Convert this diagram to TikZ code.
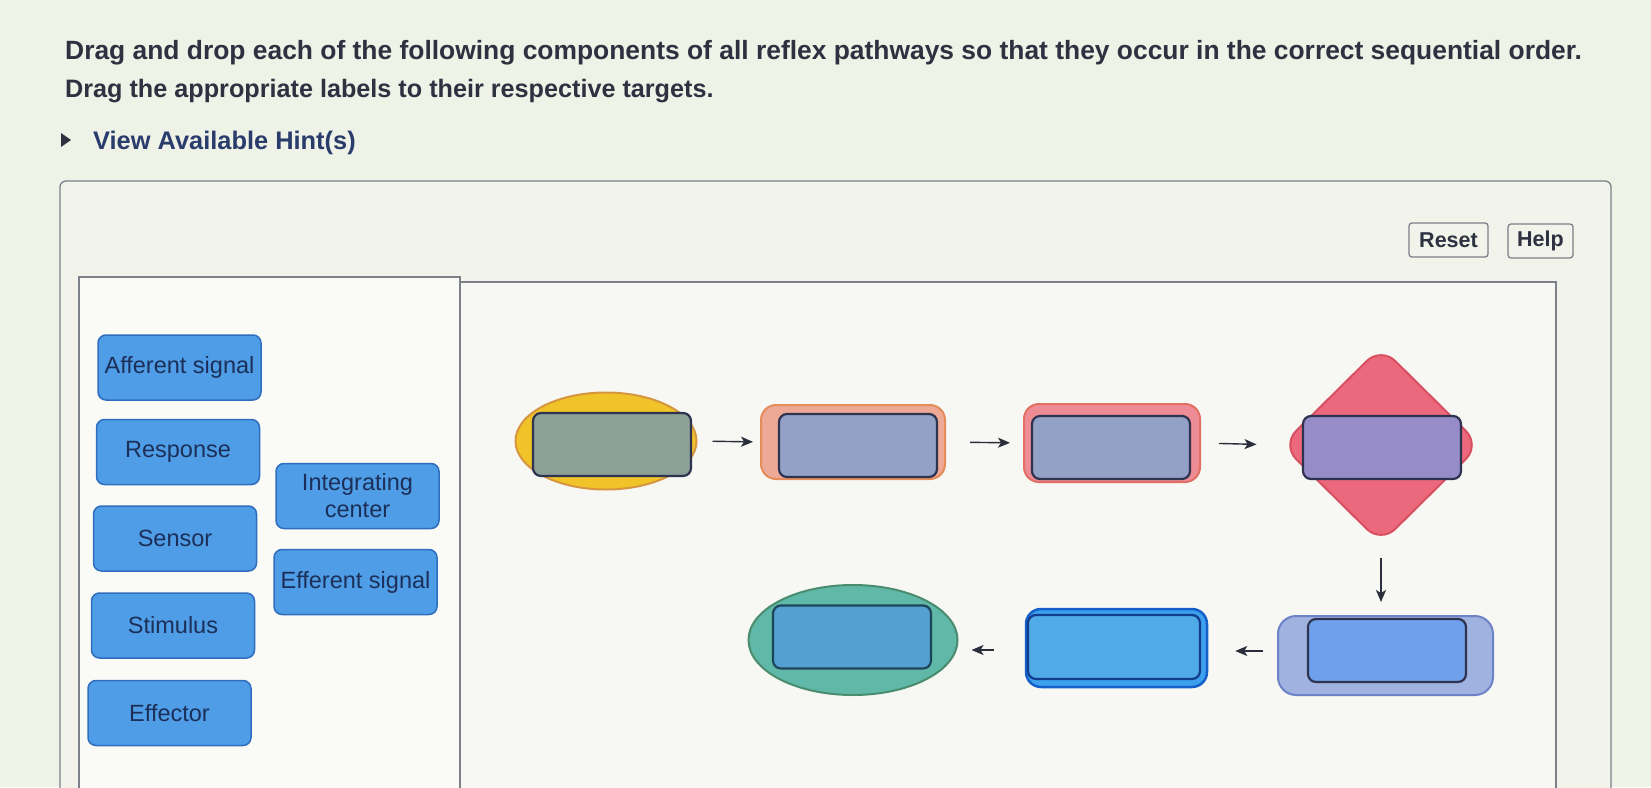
\documentclass[tikz,border=0pt]{standalone}
\usepackage{fontspec}
\setmainfont{Liberation Sans}
\usetikzlibrary{shapes.geometric,arrows.meta}

\definecolor{pagebg}{HTML}{EFF2E6}
\definecolor{panelbg}{HTML}{F2F4EC}
\definecolor{panelline}{HTML}{7C8088}
\definecolor{headtext}{HTML}{2E3140}
\definecolor{hinttext}{HTML}{2A3C6C}
\definecolor{tilefill}{HTML}{4E9DE6}
\definecolor{tileline}{HTML}{2F6DBE}
\definecolor{tiletext}{HTML}{1C2F58}
\definecolor{slotline}{HTML}{2E3350}
\definecolor{slotfill}{HTML}{93A1C6}
\definecolor{arrowcol}{HTML}{2A2D3A}

\tikzset{
	tilebox/.style={draw=tileline, fill=tilefill, rounded corners=8pt, line width=1.5pt,
		minimum width=163pt, minimum height=65pt, text=tiletext, align=center,
		font=\fontsize{23.5}{27}\selectfont, inner sep=2pt},
	slotbox/.style={draw=slotline, fill=slotfill, rounded corners=8pt, line width=2.2pt,
		minimum width=158pt, minimum height=63pt, inner sep=0pt},
	zonebox/.style={rounded corners=15pt, line width=2pt, inner sep=0pt},
	btnbox/.style={draw=panelline, fill=panelbg, rounded corners=3pt, line width=1.3pt,
		text=headtext, font=\bfseries\fontsize{21.5}{23}\selectfont, inner sep=0pt, minimum height=34pt},
	flow/.style={-{Stealth[length=12pt,width=10pt,inset=3pt]}, line width=1.4pt, draw=arrowcol},
}

\begin{document}
\begin{tikzpicture}[x=1pt,y=-1pt]
	\clip (0,0) rectangle (1651,787);
	\fill[pagebg] (0,0) rectangle (1651,787);

	% HEADER
	\node[anchor=base west, text=headtext, font=\bfseries\fontsize{26.4}{28}\selectfont, inner sep=0pt] (ask) at (65,59)
		{Drag and drop each of the following components of all reflex pathways so that they occur in the correct sequential order.};
	\node[anchor=base west, text=headtext, font=\bfseries\fontsize{25.2}{28}\selectfont, inner sep=0pt] (ask2) at (65,97)
		{Drag the appropriate labels to their respective targets.};
	\fill[headtext] (61,133) -- (71,140) -- (61,147) -- cycle;
	\node[anchor=base west, text=hinttext, font=\bfseries\fontsize{25.4}{28}\selectfont, inner sep=0pt] (hint) at (93,149)
		{View Available Hint(s)};

	% PANELS
	\draw[panelline, line width=1.3pt, fill=panelbg, rounded corners=6pt] (60,181) rectangle (1611,820);
	\draw[panelline, line width=1.3pt, fill=white!60!panelbg] (79,277) rectangle (460,820);
	\draw[panelline, line width=1.3pt, fill=white!40!panelbg] (460,282) rectangle (1556,820);
	\node[btnbox, minimum width=79pt] (reset) at (1448.5,240) {Reset};
	\node[btnbox, minimum width=65pt] (help) at (1540.5,241) {Help};

	% LABELS
	\node[tilebox] (aff) at (179.5,367.5) {Afferent signal};
	\node[tilebox] (resp) at (178,452) {Response};
	\node[tilebox] (sens) at (175,538.5) {Sensor};
	\node[tilebox] (stim) at (173,625.5) {Stimulus};
	\node[tilebox] (effc) at (169.5,713) {Effector};
	\node[tilebox] (integ) at (357.5,496) {Integrating\\center};
	\node[tilebox] (eff) at (355.5,582) {Efferent signal};

	% TARGETS, TOP ROW
	\node[ellipse, draw={rgb,255:red,214;green,150;blue,64}, fill={rgb,255:red,240;green,196;blue,40},
		line width=2pt, minimum width=181pt, minimum height=97pt] (zone1) at (606,441) {};
	\node[slotbox, fill={rgb,255:red,140;green,160;blue,150}] (slot1) at (612,444.5) {};

	\node[zonebox, draw={rgb,255:red,228;green,140;blue,90}, fill={rgb,255:red,238;green,168;blue,150},
		minimum width=184pt, minimum height=74pt] (zone2) at (853,442) {};
	\node[slotbox] (slot2) at (858,445.5) {};

	\node[zonebox, draw={rgb,255:red,226;green,110;blue,100}, fill={rgb,255:red,238;green,140;blue,150},
		minimum width=176pt, minimum height=78pt] (zone3) at (1112,443) {};
	\node[slotbox] (slot3) at (1111,447.5) {};

	\node[diamond, aspect=1, rounded corners=20pt, draw={rgb,255:red,216;green,80;blue,96},
		fill={rgb,255:red,236;green,104;blue,124}, line width=2pt, inner sep=0pt,
		minimum width=199pt, minimum height=197pt] (zone4) at (1381,445) {};
	\node[slotbox, fill={rgb,255:red,150;green,140;blue,200}] (slot4) at (1382,447.5) {};

	% TARGETS, BOTTOM ROW
	\node[zonebox, rounded corners=18pt, draw={rgb,255:red,110;green,130;blue,200}, fill={rgb,255:red,160;green,178;blue,224},
		minimum width=215pt, minimum height=79pt] (zone5) at (1385.5,655.5) {};
	\node[slotbox, fill={rgb,255:red,110;green,160;blue,236}] (slot5) at (1387,650.5) {};

	\node[zonebox, draw={rgb,255:red,20;green,96;blue,200}, fill={rgb,255:red,60;green,160;blue,238},
		line width=2.5pt, minimum width=181pt, minimum height=78pt] (zone6) at (1116.5,648) {};
	\node[slotbox, draw={rgb,255:red,20;green,60;blue,140}, fill={rgb,255:red,80;green,170;blue,230},
		minimum width=172pt, minimum height=64pt] (slot6) at (1114,647) {};

	\node[ellipse, draw={rgb,255:red,74;green,140;blue,110}, fill={rgb,255:red,96;green,184;blue,168},
		line width=2pt, minimum width=209pt, minimum height=110pt] (zone7) at (853,640) {};
	\node[slotbox, draw={rgb,255:red,30;green,70;blue,90}, fill={rgb,255:red,84;green,160;blue,210}] (slot7) at (852,637) {};

	% ARROWS
	\draw[flow, shorten <=15pt, shorten >=7pt] (zone1.east) -- (zone2.west);
	\draw[flow, shorten <=24pt, shorten >=13pt] (zone2.east) -- (zone3.west);
	\draw[flow, shorten <=18pt, shorten >=24pt] (zone3.east) -- (zone4.west);
	\draw[flow, shorten <=13pt, shorten >=13pt] (zone4.south) -- (zone5.north -| zone4.south);
	\draw[flow, shorten <=14pt, shorten >=27pt] ([yshift=4.5pt]zone5.west) -- ([yshift=-3pt]zone6.east);
	\draw[flow, shorten <=31pt, shorten >=13pt] ([yshift=-2pt]zone6.west) -- ([yshift=-10pt]zone7.east);
\end{tikzpicture}
\end{document}
